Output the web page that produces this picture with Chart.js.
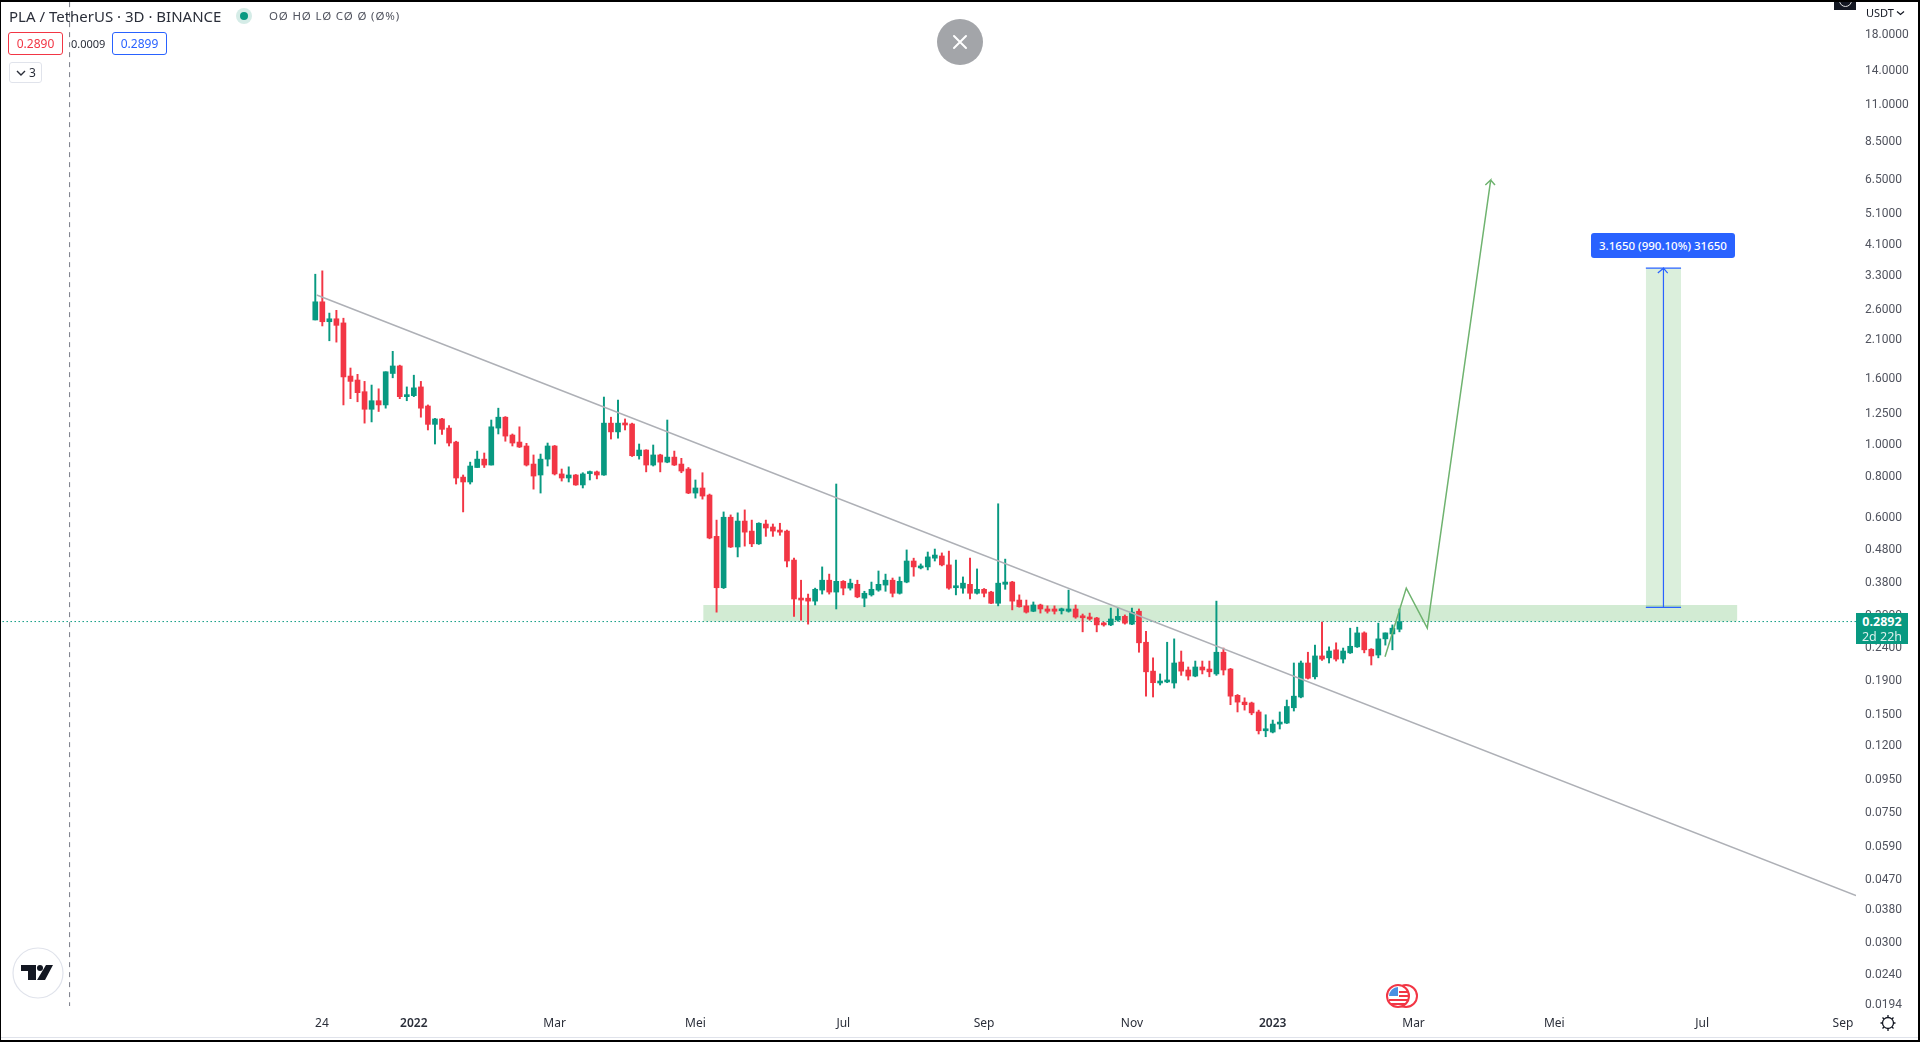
<!DOCTYPE html>
<html>
<head>
<meta charset="utf-8">
<title>PLA / TetherUS</title>
<script src="https://cdn.jsdelivr.net/npm/chart.js@4/dist/chart.umd.min.js"></script>
<style>
  html, body { margin: 0; padding: 0; background: #fff; overflow: hidden; }
  #wrap { position: relative; width: 1920px; height: 1042px; font-family: "Noto Sans", sans-serif; color: #131722; }
  #wrap canvas { position: absolute; left: 0; top: 0; }
  .abs { position: absolute; white-space: nowrap; }
  .frame { position: absolute; background: #000; }
</style>
</head>
<body>
<div id="wrap">
  <canvas id="chart" width="1920" height="1042"></canvas>

  <div class="abs" style="left:9px;top:6px;font-size:15px;line-height:20px;color:#2a2e39">PLA / TetherUS · 3D · BINANCE</div>
  <div class="abs" style="left:236px;top:8px;width:16px;height:16px;border-radius:50%;background:#d5ece7"></div>
  <div class="abs" style="left:240px;top:12px;width:8px;height:8px;border-radius:50%;background:#089981"></div>
  <div class="abs" style="left:269px;top:8px;font-size:11.5px;line-height:16px;color:#50535e;letter-spacing:.85px">OØ&nbsp;HØ&nbsp;LØ&nbsp;CØ&nbsp;Ø (Ø%)</div>

  <div class="abs" style="left:8px;top:32px;width:53px;height:21px;border:1px solid #f23645;border-radius:3px;color:#f23645;font-size:12px;line-height:21px;text-align:center">0.2890</div>
  <div class="abs" style="left:71px;top:36px;font-size:11px;line-height:16px;color:#2a2e39">0.0009</div>
  <div class="abs" style="left:112px;top:32px;width:53px;height:21px;border:1px solid #2962ff;border-radius:3px;color:#2962ff;font-size:12px;line-height:21px;text-align:center">0.2899</div>
  <div class="abs" style="left:9px;top:62px;width:31px;height:19px;border:1px solid #e0e3eb;border-radius:3px;font-size:12px;line-height:19px;color:#2a2e39">
    <svg width="12" height="8" style="position:absolute;left:5px;top:6px"><path d="M2 2 L6 6 L10 2" fill="none" stroke="#2a2e39" stroke-width="1.4"/></svg>
    <span style="position:absolute;left:19px;top:0">3</span>
  </div>

  <svg class="abs" style="left:936px;top:18px" width="48" height="48">
    <circle cx="24" cy="24" r="23" fill="#a3a5a9"/>
    <path d="M18 18 L30 30 M30 18 L18 30" stroke="#fff" stroke-width="2" stroke-linecap="round"/>
  </svg>

  <div class="abs" style="left:1591px;top:233px;width:144px;height:25px;background:#2962ff;border-radius:3px;color:#fff;font-size:11.5px;font-weight:500;line-height:25px;text-align:center">3.1650 (990.10%) 31650</div>

  <div class="abs" style="left:1856px;top:613px;width:52px;height:31px;background:#089981;color:#fff;text-align:center;font-size:12.5px;line-height:15px;padding-top:1px;box-sizing:border-box">
    <b>0.2892</b><br><span style="opacity:.85">2d 22h</span>
  </div>

  <div class="abs" style="left:1834px;top:0;width:22px;height:10px;background:#131722;overflow:hidden">
    <div style="position:absolute;left:5px;top:-6px;width:11px;height:11px;border:1px solid #ddd;border-radius:50%"></div>
  </div>
  <div class="abs" style="left:1866px;top:5px;font-size:11px;line-height:16px;color:#131722">USDT</div>
  <svg class="abs" style="left:1896px;top:10px" width="9" height="7"><path d="M1 1.5 L4.5 4.5 L8 1.5" fill="none" stroke="#131722" stroke-width="1.2"/></svg>

  <svg class="abs" style="left:12px;top:947px" width="52" height="52">
    <circle cx="26" cy="26" r="25" fill="#fff" stroke="#e0e3eb" stroke-width="1.2"/>
    <path d="M9 18 H24 V33 H16 V24 H9 Z" fill="#131722"/>
    <circle cx="28" cy="21" r="3" fill="#131722"/>
    <path d="M34 18 H41 L33 33 H25 Z" fill="#131722"/>
  </svg>

  <svg class="abs" style="left:1385px;top:982px" width="34" height="28">
    <circle cx="21" cy="14" r="11" fill="#fff" stroke="#f23645" stroke-width="2"/>
    <circle cx="13" cy="14" r="11" fill="#fff" stroke="#f23645" stroke-width="2"/>
    <path d="M4 18 H24 M6 22 H20 M14 10 H24 M14 14 H24" stroke="#f23645" stroke-width="2"/>
    <path d="M4 14 A9.5 9.5 0 0 1 13 5 V14 Z" fill="#4a90e2"/>
  </svg>

  <svg class="abs" style="left:1878px;top:1013px" width="20" height="20">
    <circle cx="10" cy="10" r="5.5" fill="none" stroke="#131722" stroke-width="1.3"/>
    <path d="M10 2 V4.5 M10 15.5 V18 M2.5 10 H4.5 M15.5 10 H17.5 M4.5 4.5 L6 6 M14 14 L15.5 15.5 M15.5 4.5 L14 6 M4.5 15.5 L6 14" stroke="#131722" stroke-width="1.3"/>
  </svg>

  <div class="frame" style="left:0;top:0;width:1920px;height:2px"></div>
  <div class="frame" style="left:0;top:0;width:1px;height:1042px"></div>
  <div class="frame" style="left:1918px;top:0;width:2px;height:1042px"></div>
  <div class="frame" style="left:0;top:1040px;width:1920px;height:2px"></div>
  <div class="abs" style="left:1px;top:1037px;width:1917px;height:1px;background:#e0e3eb"></div>
</div>

<script>
const opens = [2.42,2.75,2.39,2.44,2.37,1.63,1.585,1.46,1.29,1.37,1.33,1.66,1.75,1.41,1.42,1.51,1.32,1.16,1.205,1.13,
  1.024,0.80,0.773,0.856,0.908,0.871,1.13,1.22,1.076,1.024,0.996,0.877,0.812,0.908,0.996,0.818,0.795,0.812,0.757,0.82,
  0.83,0.812,1.17,1.10,1.17,1.163,0.93,0.968,0.871,0.935,0.889,0.921,0.877,0.847,0.715,0.741,0.705,0.527,0.367,0.603,
  0.489,0.587,0.547,0.50,0.575,0.563,0.551,0.547,0.446,0.341,0.341,0.334,0.361,0.387,0.356,0.384,0.366,0.376,0.341,0.349,
  0.361,0.374,0.387,0.353,0.382,0.443,0.422,0.425,0.452,0.459,0.431,0.367,0.366,0.376,0.353,0.363,0.356,0.329,0.376,0.382,
  0.3365,0.323,0.311,0.325,0.316,0.316,0.312,0.311,0.316,0.30,0.2985,0.2965,0.286,0.2825,0.2924,0.30,0.284,0.311,0.25,0.204,
  0.1876,0.189,0.1876,0.2175,0.2056,0.197,0.21,0.207,0.20,0.233,0.207,0.172,0.164,0.163,0.153,0.134,0.1328,0.1405,0.1415,0.1576,
  0.17,0.216,0.196,0.227,0.224,0.237,0.222,0.232,0.242,0.267,0.238,0.2285,0.256,0.265,0.274];
const highs = [3.34,3.42,2.54,2.59,2.45,1.725,1.65,1.57,1.53,1.49,1.68,1.94,1.76,1.51,1.64,1.57,1.33,1.21,1.21,1.15,
  1.03,0.812,0.889,0.961,0.948,1.196,1.30,1.225,1.084,1.14,1.015,0.935,0.941,1.017,1.0,0.847,0.86,0.815,0.825,0.835,
  0.835,1.406,1.22,1.377,1.205,1.17,1.01,0.97,1.003,0.94,1.196,0.961,0.913,0.856,0.784,0.825,0.71,0.591,0.626,0.613,
  0.622,0.635,0.591,0.58,0.591,0.575,0.578,0.551,0.452,0.387,0.351,0.366,0.425,0.404,0.762,0.386,0.39,0.387,0.358,0.382,
  0.413,0.404,0.393,0.396,0.479,0.452,0.434,0.472,0.482,0.469,0.475,0.446,0.396,0.452,0.419,0.365,0.358,0.663,0.449,0.384,
  0.349,0.3365,0.332,0.327,0.323,0.323,0.318,0.361,0.325,0.305,0.307,0.298,0.288,0.318,0.318,0.303,0.318,0.316,0.27,0.224,
  0.20,0.25,0.256,0.235,0.21,0.219,0.219,0.219,0.334,0.24,0.208,0.173,0.169,0.164,0.155,0.15,0.1445,0.153,0.1664,0.216,
  0.219,0.233,0.245,0.288,0.242,0.249,0.24,0.276,0.278,0.269,0.239,0.286,0.267,0.2825,0.316];
const lows = [2.42,2.32,2.09,2.07,1.33,1.39,1.36,1.17,1.18,1.27,1.30,1.61,1.39,1.37,1.41,1.22,1.115,1.01,1.08,0.996,
  0.762,0.626,0.762,0.856,0.856,0.871,1.084,1.03,0.996,0.985,0.865,0.735,0.715,0.865,0.812,0.778,0.773,0.755,0.741,0.784,
  0.79,0.81,1.046,1.053,1.115,0.925,0.908,0.83,0.865,0.83,0.885,0.868,0.825,0.712,0.69,0.685,0.518,0.309,0.365,0.487,
  0.456,0.492,0.49,0.498,0.527,0.527,0.531,0.425,0.30,0.292,0.284,0.325,0.351,0.351,0.316,0.349,0.361,0.342,0.321,0.346,
  0.358,0.358,0.344,0.351,0.38,0.398,0.419,0.416,0.443,0.428,0.363,0.349,0.353,0.339,0.351,0.344,0.328,0.323,0.363,0.314,
  0.32,0.307,0.31,0.307,0.307,0.305,0.305,0.309,0.296,0.269,0.292,0.269,0.28,0.281,0.29,0.284,0.283,0.233,0.171,0.17,
  0.185,0.188,0.181,0.198,0.1916,0.196,0.20,0.196,0.198,0.1985,0.161,0.153,0.155,0.15,0.131,0.1285,0.132,0.1357,0.141,0.154,
  0.169,0.193,0.193,0.22,0.216,0.219,0.216,0.231,0.241,0.232,0.213,0.224,0.245,0.237,0.269];
const closes = [2.75,2.39,2.44,2.33,1.62,1.57,1.45,1.29,1.37,1.33,1.68,1.75,1.41,1.43,1.50,1.30,1.16,1.205,1.12,1.017,
  0.795,0.773,0.865,0.908,0.871,1.14,1.22,1.068,1.017,0.989,0.871,0.806,0.908,0.996,0.818,0.795,0.812,0.757,0.818,0.825,
  0.812,1.17,1.10,1.17,1.155,0.93,0.968,0.871,0.935,0.889,0.921,0.871,0.835,0.715,0.741,0.70,0.521,0.367,0.603,0.489,
  0.587,0.543,0.50,0.578,0.559,0.547,0.543,0.443,0.339,0.3365,0.334,0.363,0.387,0.356,0.384,0.366,0.379,0.344,0.353,0.363,
  0.376,0.387,0.353,0.384,0.443,0.425,0.428,0.456,0.462,0.431,0.366,0.369,0.379,0.353,0.363,0.353,0.329,0.379,0.382,0.334,
  0.321,0.309,0.325,0.316,0.311,0.311,0.314,0.316,0.2985,0.297,0.2945,0.2825,0.2825,0.2945,0.30,0.286,0.309,0.249,0.203,0.188,
  0.19,0.19,0.216,0.204,0.197,0.21,0.2056,0.203,0.233,0.2056,0.171,0.164,0.161,0.152,0.134,0.135,0.1405,0.1425,0.159,0.171,
  0.216,0.194,0.227,0.222,0.235,0.222,0.235,0.243,0.267,0.237,0.227,0.256,0.267,0.276,0.2892];

const priceTicks = [18,14,11,8.5,6.5,5.1,4.1,3.3,2.6,2.1,1.6,1.25,1,0.8,0.6,0.48,0.38,0.3,0.24,0.19,0.15,0.12,0.095,0.075,0.059,0.047,0.038,0.03,0.024,0.0194];
const timeLabels = ['24','2022','Mar','Mei','Jul','Sep','Nov','2023','Mar','Mei','Jul','Sep'];
const timeSlots = [0.95,14,34,54,75,95,116,136,156,176,197,217];

const lastPrice = 0.2892;
const trendX = [0.2,218.85], trendY = [2.884,0.04195];
const zoneX = [55.1,202], zoneTop = 0.325;
const pathX = [151.95,154.97,157.95,166.96,166.2,166.96,167.57];
const pathY = [0.2258,0.366,0.2764,6.484,6.26,6.484,6.26];
const measureX = [189,194], measureTop = 3.4847, measureBottom = 0.3197;
const arrowX = [191.5,191.5,190.7,191.5,192.1];
const arrowY = [0.3197,3.4847,3.368,3.4847,3.368];
const cursorX = -34.9;

const UP = '#089981', DOWN = '#f23645';
const indexes = opens.map((_, i) => i);
const colors = indexes.map(i => closes[i] >= opens[i] ? UP : DOWN);

function zip(xs, ys) {
  return xs.map((x, i) => ({ x, y: ys[i] }));
}

function line(label, data, color, width, extra = {}) {
  return Object.assign({ type: 'line', label, data, borderColor: color, borderWidth: width, pointRadius: 0, tension: 0 }, extra);
}

new Chart(document.getElementById('chart'), {
  type: 'bar',
  data: {
    datasets: [
      line('zone', zip(zoneX, [zoneTop, zoneTop]), 'rgba(0,0,0,0)', 0, { fill: { value: lastPrice }, backgroundColor: 'rgba(76,175,80,0.25)', order: 9 }),
      line('measure', zip(measureX, [measureTop, measureTop]), '#2962ff', 1.2, { fill: { value: measureBottom }, backgroundColor: 'rgba(76,175,80,0.2)', order: 8 }),
      line('measureBase', zip(measureX, [measureBottom, measureBottom]), '#2962ff', 1.2, { order: 1 }),
      line('measureArrow', zip(arrowX, arrowY), '#2962ff', 1.2, { order: 1 }),
      line('cursor', zip([cursorX, cursorX], [22.7, 0.01927]), '#787b86', 1, { borderDash: [5, 5], order: 7 }),
      line('last', zip([-45, 219], [lastPrice, lastPrice]), UP, 1, { borderDash: [1.5, 2.5], order: 5 }),
      {
        label: 'wick',
        data: indexes.map(i => ({ x: i, y: [lows[i], highs[i]] })),
        backgroundColor: colors,
        grouped: false, barPercentage: 1, categoryPercentage: 1, maxBarThickness: 1.3,
        order: 4,
      },
      {
        label: 'body',
        data: indexes.map(i => ({ x: i, y: [opens[i], closes[i]] })),
        backgroundColor: colors,
        grouped: false, barPercentage: 1, categoryPercentage: 1, maxBarThickness: 5, minBarLength: 2,
        order: 3,
      },
      line('trend', zip(trendX, trendY), '#aeb0b6', 1.5, { order: 2 }),
      line('path', zip(pathX, pathY), '#6fb36f', 1.5, { order: 0 }),
    ],
  },
  options: {
    responsive: false,
    animation: false,
    events: [],
    layout: { padding: { left: 2, top: 2, right: 0, bottom: 0 } },
    plugins: { legend: { display: false }, tooltip: { enabled: false } },
    scales: {
      x: {
        type: 'linear',
        offset: false,
        min: -44.5,
        max: 218.85,
        grid: { display: false, drawTicks: false },
        border: { display: false },
        afterBuildTicks: s => { s.ticks = timeSlots.map(value => ({ value })); },
        afterFit: s => { s.height = 32; s.paddingLeft = 0; s.paddingRight = 0; },
        ticks: {
          autoSkip: false,
          maxRotation: 0,
          padding: 6,
          color: '#2a2e39',
          font: ctx => ({
            family: '"Noto Sans"',
            size: 12,
            weight: /^20/.test(timeLabels[timeSlots.indexOf(ctx.tick && ctx.tick.value)]) ? '600' : '400',
          }),
          callback: value => timeLabels[timeSlots.indexOf(value)],
        },
      },
      y: {
        type: 'logarithmic',
        position: 'right',
        min: 0.01875,
        max: 22.72,
        grid: { display: false, drawTicks: false },
        border: { display: false },
        afterBuildTicks: s => { s.ticks = priceTicks.map(value => ({ value })); },
        afterFit: s => { s.width = 64; s.paddingTop = 0; s.paddingBottom = 0; },
        ticks: {
          autoSkip: false,
          padding: 9,
          color: '#50535e',
          font: { family: 'Roboto', size: 12 },
          callback: value => value.toFixed(4),
        },
      },
    },
  },
});
</script>
</body>
</html>
